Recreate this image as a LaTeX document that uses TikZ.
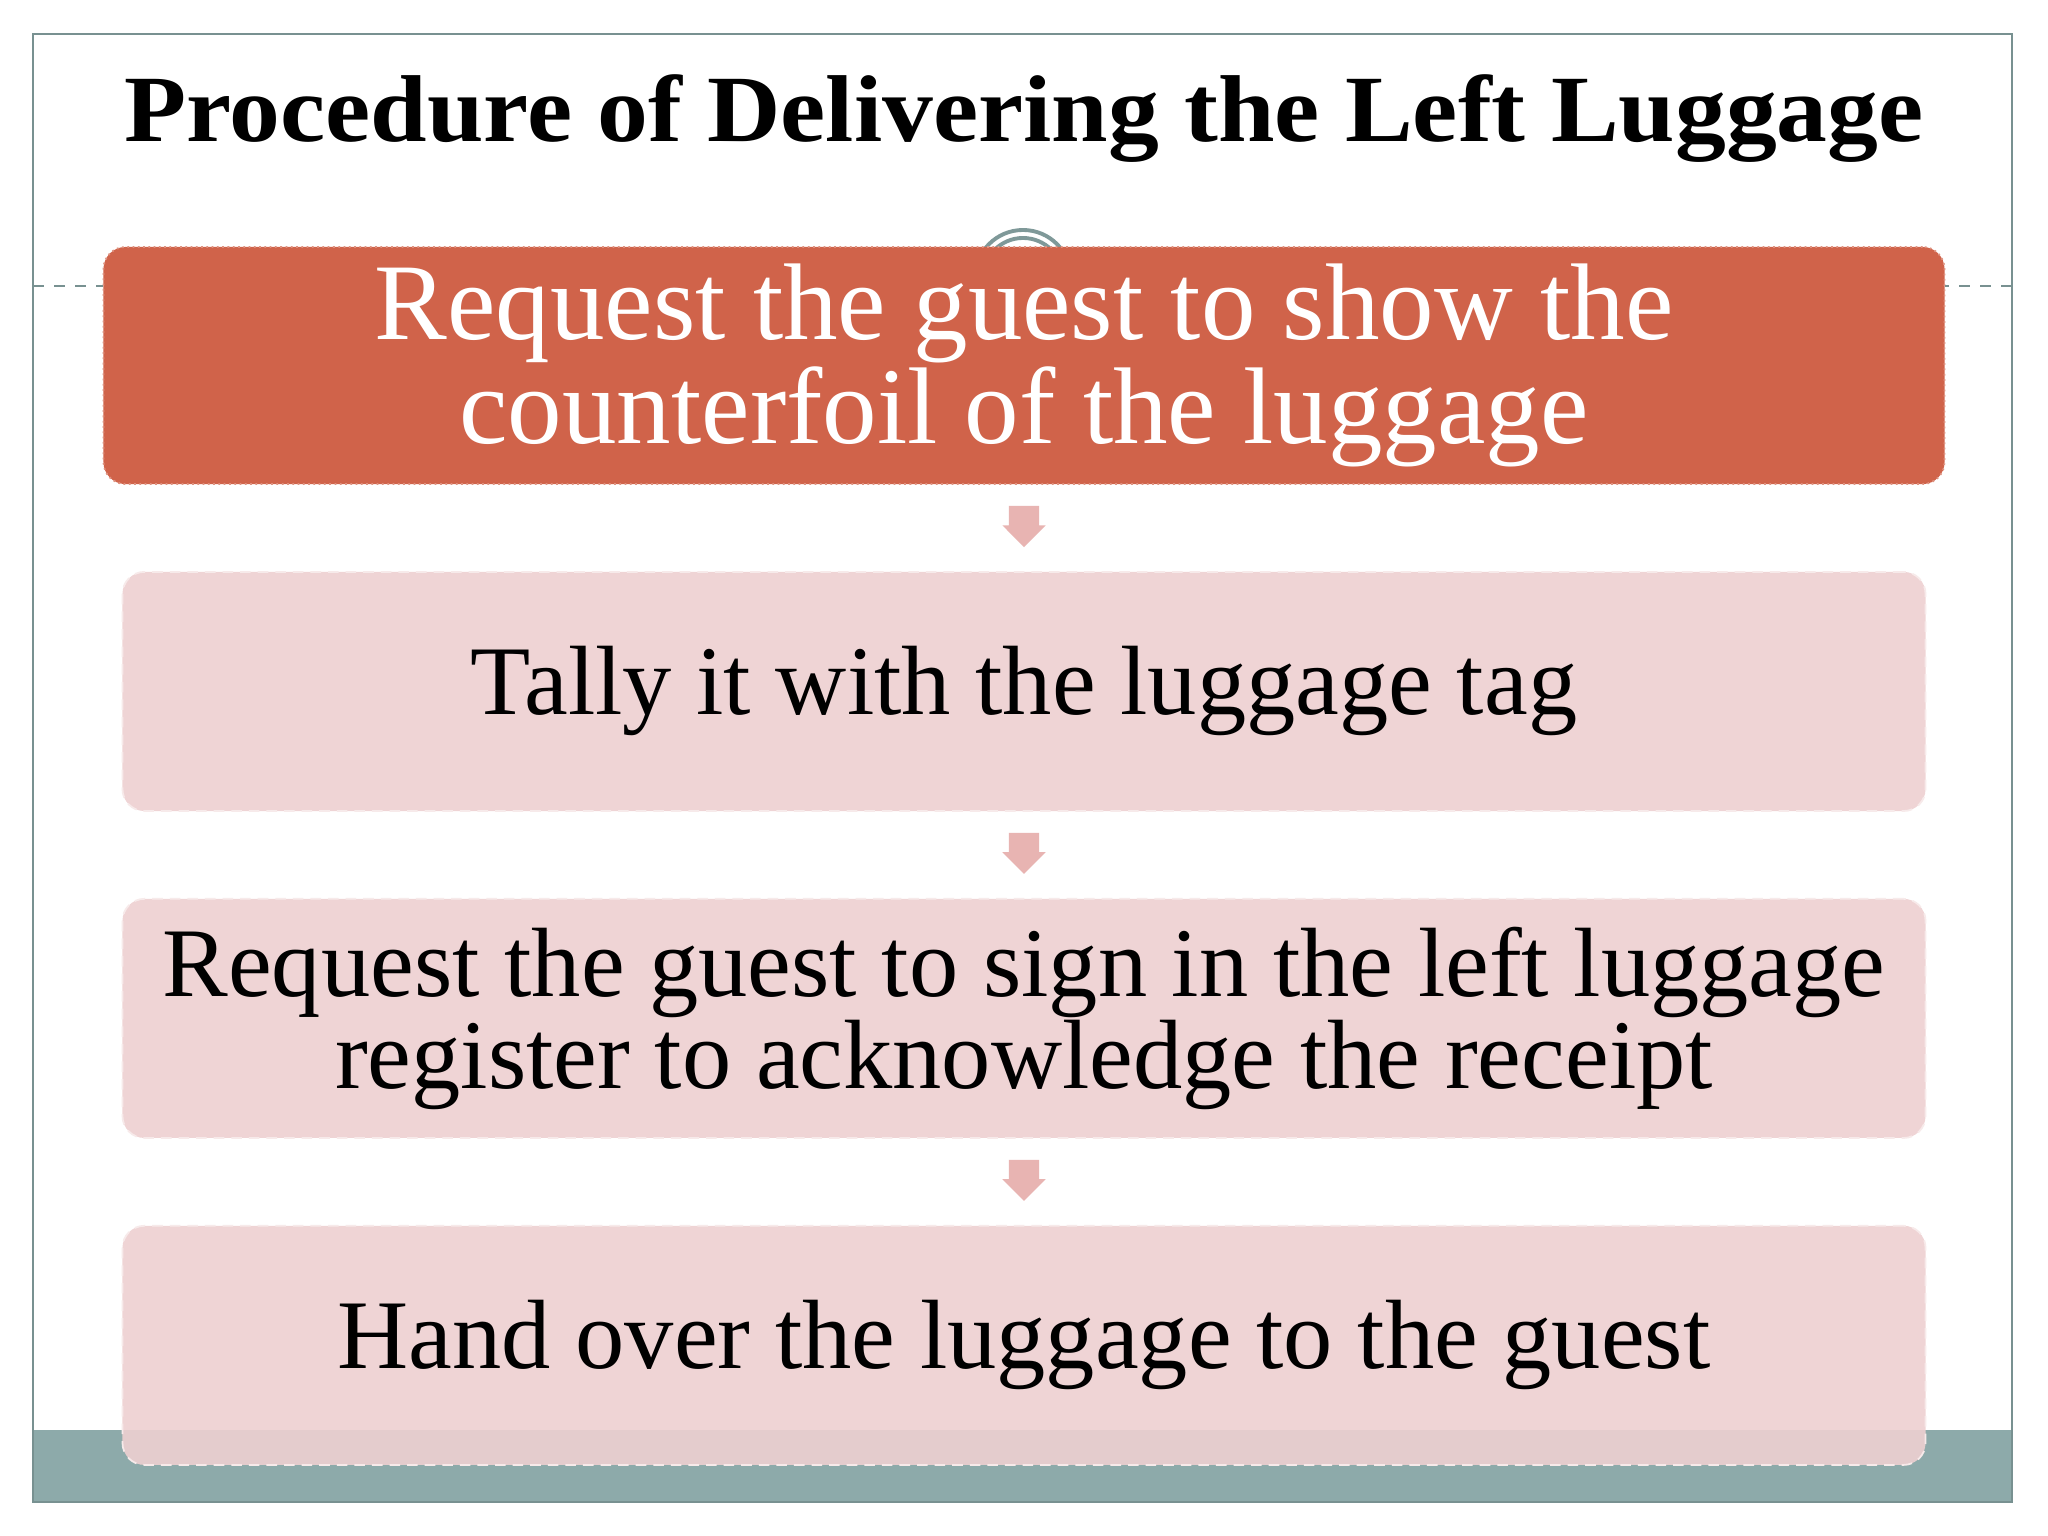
\documentclass[tikz,border=0pt]{standalone}
\usepackage{fontspec}
\setmainfont{Liberation Serif}
\usetikzlibrary{shapes,arrows,calc,positioning}
\definecolor{coral}{HTML}{D0634A}
\definecolor{blush}{HTML}{EED0D1}
\definecolor{arrowpink}{HTML}{E8B4B2}
\definecolor{sea}{HTML}{8DAAAA}
\begin{document}
\begin{tikzpicture}[x=0.01cm, y=-0.01cm, node distance=0.86cm]
\tikzset{
    %Define style for the step boxes
    stepbox/.style={
           rectangle,
           rounded corners=0.22cm,
           fill=blush, fill opacity=0.9, text opacity=1,
           draw=white!55!blush, densely dashed, line width=0.5pt,
           minimum width=18.02cm,
           minimum height=2.39cm,
           align=center,
           font=\fontsize{28}{26}\selectfont},
    %Define style for the first box
    firstbox/.style={
           stepbox,
           fill=coral, fill opacity=1,
           draw=white!30!coral, densely dotted,
           text=white,
           minimum width=18.4cm,
           minimum height=2.37cm,
           font=\fontsize{31}{28}\selectfont},
    % Define block arrow style
    downarrow/.style={
           single arrow, shape border rotate=270,
           fill=arrowpink, draw=none,
           inner xsep=0.145cm, inner ysep=0pt,
           minimum height=0.41cm,
           single arrow head extend=0.065cm,
           anchor=tip}
}
 % page, frame and bar at the bottom
 \useasboundingbox (0,0) rectangle (2048,1536);
 \fill[white] (0,0) rectangle (2048,1536);
 \fill[sea] (33,1430) rectangle (2012,1502);
 \draw[sea!85!black, line width=0.6pt] (33,34) rectangle (2012,1502);
 % title
 \node[font=\bfseries\fontsize{27}{30}\selectfont\addfontfeatures{FakeStretch=1.07}, anchor=base]
   (title) at (1024,141) {Procedure of Delivering the Left Luggage};
 % rings behind the first box
 \draw[sea!90!black, line width=1.1pt] (1023,278) circle (0.48cm) (1023,278) circle (0.40cm);
 %nodes
 \node[firstbox] (request) at (1024,365.5)
   {Request the guest to show the\\counterfoil of the luggage};
 \node[stepbox, below=of request] (tally) {Tally it with the luggage tag};
 \node[stepbox, below=of tally] (sign)
   {Request the guest to sign in the left luggage\\register to acknowledge the receipt};
 \node[stepbox, below=of sign] (handover) {Hand over the luggage to the guest};
 % guide line left and right of the first box
 \coordinate (guideL) at (33,286);
 \coordinate (guideR) at (2012,286);
 \draw[sea!85!black, dashed, line width=0.5pt] (guideL) -- (guideL -| request.west);
 \draw[sea!85!black, dashed, line width=0.5pt] (guideR) -- (guideR -| request.east);
 % arrows between the boxes, tip just above the next box
 \node[downarrow] (a1) at ($(tally.north)+(0,-23)$) {};
 \node[downarrow] (a2) at ($(sign.north)+(0,-23)$) {};
 \node[downarrow] (a3) at ($(handover.north)+(0,-23)$) {};
\end{tikzpicture}
\end{document}
